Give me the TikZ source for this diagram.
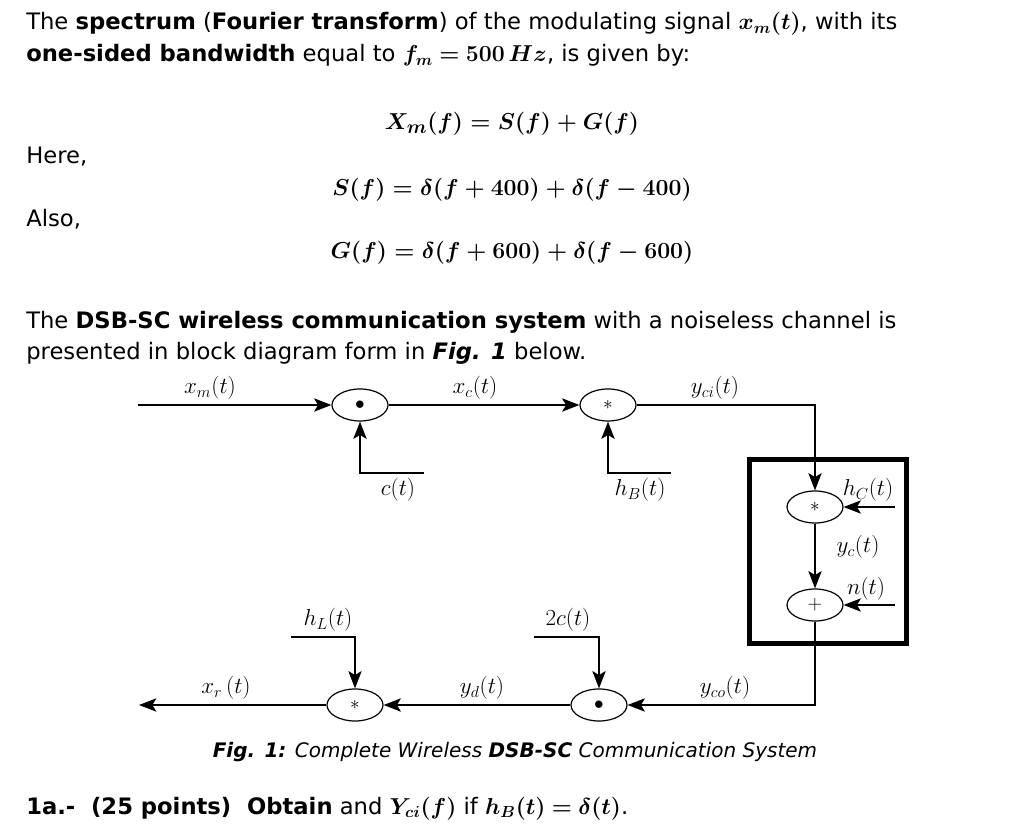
\documentclass[tikz,border=0pt]{standalone}
\usepackage{amsmath,bm}
\usepackage{fontspec}
\usetikzlibrary{shapes.geometric,arrows.meta}
\newfontfamily\vf{DejaVu Sans}
\begin{document}
\begin{tikzpicture}[x=0.75pt,y=-0.75pt,
  op/.style={ellipse,draw,line width=0.9pt,minimum width=42pt,minimum height=24pt,inner sep=0pt},
  arr/.style={line width=0.9pt,-{Stealth[length=13pt,width=10pt,inset=3pt]}},
  lbl/.style={font=\fontsize{17}{20}\selectfont,inner sep=0pt},
  txt/.style={font=\vf\fontsize{17}{20}\selectfont,anchor=base west,inner sep=0pt},
  eq/.style={font=\fontsize{19}{22}\selectfont\boldmath,anchor=base,inner sep=0pt}]
\useasboundingbox (0,0) rectangle (1024,834);
% text
\node[txt] (l1) at (26,30) {The \textbf{spectrum} (\textbf{Fourier transform}) of the modulating signal $\bm{x_m(t)}$, with its};
\node[txt] (l2) at (26,62) {\textbf{one-sided bandwidth} equal to $\bm{f_m=500\,Hz}$, is given by:};
\node[eq] (e1) at (512,130) {$X_m(f)=S(f)+G(f)$};
\node[txt] (h) at (26,164) {Here,};
\node[eq] (e2) at (512,196) {$S(f)=\delta(f+400)+\delta(f-400)$};
\node[txt] (a) at (26,227) {Also,};
\node[eq] (e3) at (512,258) {$G(f)=\delta(f+600)+\delta(f-600)$};
\node[txt] (l3) at (26,328) {The \textbf{DSB-SC wireless communication system} with a noiseless channel is};
\node[txt] (l4) at (26,359) {presented in block diagram form in \textbf{\itshape Fig. 1} below.};
\node[font=\vf\itshape\fontsize{15}{18}\selectfont,anchor=base,inner sep=0pt] (cap) at (515,757) {\textbf{Fig. 1:} Complete Wireless \textbf{DSB-SC} Communication System};
\node[txt] (q) at (26,814) {\textbf{1a.-\ \ (25 points)\ \ Obtain} and $\bm{Y_{ci}(f)}$ if $\bm{h_B(t)=\delta(t)}$.};
% diagram
\draw[line width=3.75pt] (749,459) rectangle (906,643);
\coordinate (xin) at (138,405);
\node[op] (c1) at (360,405) {\Large$\bullet$};
\node[op] (c2) at (608,405) {\Large$\ast$};
\node[op] (c3) at (815,507) {\Large$\ast$};
\node[op] (c4) at (815,605) {\Large$+$};
\node[op] (c5) at (599,705) {\Large$\bullet$};
\node[op] (c6) at (355,705) {\Large$\ast$};
\coordinate (cin) at (424,473);
\coordinate (hbin) at (671,473);
\coordinate (hcin) at (895,507);
\coordinate (nin) at (895,605);
\coordinate (tcin) at (534,637);
\coordinate (hlin) at (291,637);
\coordinate (xr) at (139,705);
\draw[arr] (xin) -- (c1);
\draw[arr] (c1) -- (c2);
\draw[arr] (c2) -| (c3);
\draw[arr] (cin) -| (c1);
\draw[arr] (hbin) -| (c2);
\draw[arr] (hcin) -- (c3);
\draw[arr] (c3) -- (c4);
\draw[arr] (nin) -- (c4);
\draw[arr] (c4) |- (c5);
\draw[arr] (tcin) -| (c5);
\draw[arr] (c5) -- (c6);
\draw[arr] (hlin) -| (c6);
\draw[arr] (c6) -- (xr);
% labels
\node[lbl] (t1) at (210,388) {$x_m(t)$};
\node[lbl] (t2) at (475,388) {$x_c(t)$};
\node[lbl] (t3) at (715,388) {$y_{ci}(t)$};
\node[lbl] (t4) at (398,490) {$c(t)$};
\node[lbl] (t5) at (640,490) {$h_B(t)$};
\node[lbl] (t6) at (868,490) {$h_C(t)$};
\node[lbl] (t7) at (858,547) {$y_c(t)$};
\node[lbl] (t8) at (866,589) {$n(t)$};
\node[lbl] (t9) at (328,620) {$h_L(t)$};
\node[lbl] (t10) at (568,620) {$2c(t)$};
\node[lbl] (t11) at (226,688) {$x_r\,(t)$};
\node[lbl] (t12) at (482,688) {$y_d(t)$};
\node[lbl] (t13) at (725,688) {$y_{co}(t)$};
\end{tikzpicture}
\end{document}
